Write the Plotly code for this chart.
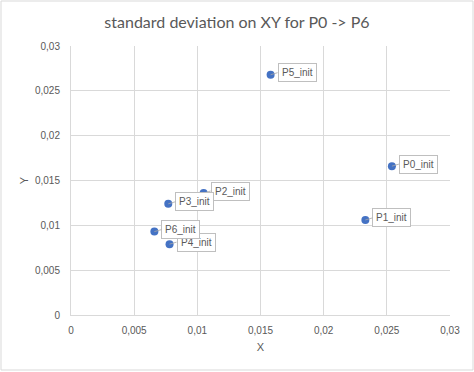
import plotly.graph_objects as go

# ---- data ----
labels = ["P0_init", "P1_init", "P2_init", "P3_init", "P4_init", "P5_init", "P6_init"]
x_vals = [0.0254, 0.0233, 0.0105, 0.0077, 0.0078, 0.0158, 0.0066]
y_vals = [0.0166, 0.0106, 0.0136, 0.0124, 0.0079, 0.0268, 0.0093]

tick_vals = [0, 0.005, 0.01, 0.015, 0.02, 0.025, 0.03]
tick_text = ["0", "0,005", "0,01", "0,015", "0,02", "0,025", "0,03"]

title_text = "standard deviation on XY for P0 -> P6"
x_title = "X"
y_title = "Y"

grey = "#595959"
grid = "#D9D9D9"
blue = "#4472C4"

fig = go.Figure()
fig.add_trace(go.Scatter(
    x=x_vals, y=y_vals, mode="markers",
    marker=dict(color=blue, size=8, line=dict(width=0)),
    hoverinfo="skip", showlegend=False,
))

for lx, ly, lt in zip(x_vals, y_vals, labels):
    fig.add_annotation(
        x=lx, y=ly, text=lt, xref="x", yref="y",
        showarrow=True, arrowhead=0, arrowwidth=0.8, arrowcolor="#A6A6A6",
        ax=7, ay=-2, xanchor="left", yanchor="middle",
        bgcolor="white", bordercolor="#BFBFBF", borderwidth=1, borderpad=3,
        font=dict(family="Liberation Sans, Arial", size=10, color=grey),
    )

fig.update_layout(
    width=474, height=372,
    margin=dict(l=71, r=24, t=46, b=57),
    paper_bgcolor="white", plot_bgcolor="white",
    title=dict(text=title_text, x=0.5, xanchor="center", y=0.94, yanchor="middle",
               font=dict(family="Lato, Open Sans, sans-serif", size=16, color=grey)),
    font=dict(family="Liberation Sans, Arial", size=10, color=grey),
    xaxis=dict(range=[0, 0.03], tickvals=tick_vals, ticktext=tick_text,
               showgrid=True, gridcolor=grid, gridwidth=1,
               showline=True, linecolor=grid, zeroline=False,
               ticks="", ticklabelstandoff=6,
               title=dict(text=x_title, standoff=8,
                          font=dict(family="Liberation Sans, Arial", size=11, color=grey))),
    yaxis=dict(range=[0, 0.03], tickvals=tick_vals, ticktext=tick_text,
               showgrid=True, gridcolor=grid, gridwidth=1,
               showline=True, linecolor=grid, zeroline=False,
               ticks="", ticklabelstandoff=8,
               title=dict(text=y_title, standoff=4,
                          font=dict(family="Liberation Sans, Arial", size=11, color=grey))),
)

fig.add_shape(type="rect", xref="paper", yref="paper",
              x0=-70/379, x1=1 + 23/379, y0=-55/269, y1=1 + 45/269,
              line=dict(color="#D9D9D9", width=1), fillcolor="rgba(0,0,0,0)", layer="below")

fig.write_html("out.html", config={"displayModeBar": False},
               post_script="document.body.style.margin='0';document.body.style.overflow='hidden';")
